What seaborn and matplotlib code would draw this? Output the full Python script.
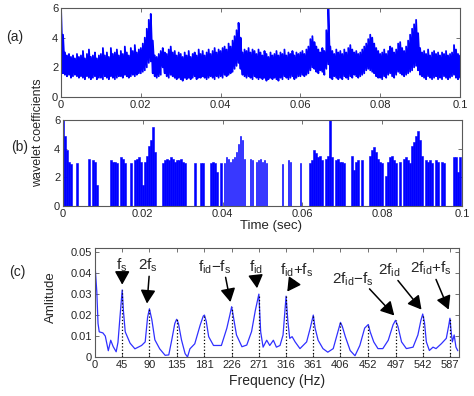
# Wavelet coefficients (a), thresholded coefficients (b) and envelope spectrum (c)

import numpy as np
import matplotlib
matplotlib.use("Agg")
import matplotlib.pyplot as plt
import seaborn as sns

sns.set_style("white")
plt.rcParams['font.family'] = ['Liberation Sans', 'DejaVu Sans']
plt.rcParams['mathtext.default'] = 'regular'

BLUE = '#0000ff'
FRAME = '0.35'

# ---- (a) raw wavelet coefficients: band envelope read every 0.5 ms ----
time_a = np.linspace(0, 0.1, 201)
upper_a = [6.0, 4.2, 3.0, 2.8, 2.9, 2.7, 2.8, 2.6, 2.9, 2.7,
           2.8, 3.1, 2.6, 2.9, 3.2, 2.7, 2.8, 3.0, 2.6, 2.8,
           2.9, 3.3, 2.8, 3.0, 2.7, 3.3, 2.9, 3.0, 3.2, 2.8,
           3.1, 2.9, 3.4, 3.0, 2.8, 3.3, 3.1, 3.5, 3.0, 3.2,
           3.3, 3.6, 4.0, 4.6, 5.2, 5.6, 3.8, 2.8, 2.7, 2.9,
           3.1, 3.3, 3.0, 2.9, 3.2, 3.4, 3.0, 3.1, 2.8, 3.0,
           2.9, 2.7, 3.0, 2.8, 3.1, 2.7, 2.9, 3.0, 2.8, 3.2,
           2.9, 3.1, 2.8, 3.0, 3.2, 2.9, 3.1, 3.3, 3.0, 3.2,
           3.1, 3.3, 3.4, 3.2, 3.6, 3.4, 3.8, 4.1, 4.5, 5.0,
           4.0, 3.0, 3.2, 3.1, 3.3, 3.0, 3.2, 3.1, 2.9, 3.2,
           3.0, 2.8, 3.1, 2.9, 2.7, 3.0, 2.8, 2.9, 3.1, 2.8,
           3.0, 2.9, 3.2, 2.8, 3.0, 2.9, 3.1, 2.8, 3.0, 2.9,
           3.0, 3.1, 2.9, 3.2, 3.4, 3.9, 4.1, 3.7, 3.4, 3.2,
           3.0, 3.3, 3.1, 4.5, 6.0, 3.4, 3.1, 2.9, 3.2, 3.0,
           3.1, 2.9, 3.2, 3.0, 3.3, 3.5, 3.2, 3.0, 3.1, 2.9,
           3.0, 3.2, 3.4, 3.6, 3.9, 4.2, 4.0, 3.6, 3.3, 3.1,
           2.9, 3.0, 3.2, 2.9, 3.1, 3.4, 3.3, 3.0, 3.2, 3.6,
           3.7, 3.3, 3.1, 3.4, 3.8, 4.2, 4.6, 4.9, 5.2, 4.3,
           3.3, 3.0, 3.1, 2.9, 3.2, 2.8, 3.0, 3.1, 2.9, 3.0,
           2.8, 3.0, 2.9, 3.1, 2.8, 2.9, 3.0, 3.5, 3.2, 2.9, 2.8]
lower_a = [2.2, 1.6, 1.5, 1.4, 1.5, 1.3, 1.4, 1.5, 1.4, 1.3,
           1.4, 1.3, 1.2, 1.4, 1.3, 1.2, 1.3, 1.4, 1.2, 1.3,
           1.3, 1.2, 1.4, 1.3, 1.2, 1.4, 1.3, 1.2, 1.3, 1.4,
           1.4, 1.3, 1.5, 1.4, 1.3, 1.4, 1.5, 1.4, 1.5, 1.6,
           1.6, 1.7, 1.8, 2.0, 2.3, 2.4, 1.6, 1.4, 1.3, 1.4,
           1.5, 2.0, 1.6, 1.4, 1.3, 1.5, 1.4, 1.3, 1.2, 1.3,
           1.2, 1.1, 1.3, 1.2, 1.3, 1.2, 1.3, 1.4, 1.2, 1.3,
           1.3, 1.4, 1.3, 1.2, 1.3, 1.4, 1.3, 1.2, 1.4, 1.3,
           1.4, 1.3, 1.5, 1.4, 1.5, 1.6, 1.7, 1.9, 2.1, 2.3,
           1.9, 1.5, 1.4, 1.3, 1.4, 1.3, 1.2, 1.4, 1.3, 1.2,
           1.3, 1.2, 1.3, 1.1, 1.2, 1.3, 1.2, 1.3, 1.2, 1.1,
           1.3, 1.2, 1.4, 1.3, 1.2, 1.3, 1.4, 1.2, 1.3, 1.4,
           1.4, 1.5, 1.4, 1.5, 1.6, 1.8, 2.0, 1.9, 1.7, 1.6,
           1.8, 1.7, 1.5, 1.9, 2.2, 1.3, 1.2, 1.4, 1.3, 1.2,
           1.3, 1.2, 1.4, 1.3, 1.2, 1.4, 1.3, 1.5, 1.4, 1.3,
           1.4, 1.5, 1.6, 1.8, 1.9, 1.8, 1.7, 1.6, 1.4, 1.3,
           1.3, 1.2, 1.4, 1.3, 1.5, 1.6, 1.4, 1.3, 1.5, 1.7,
           1.6, 1.5, 1.4, 1.5, 1.6, 1.7, 1.8, 2.0, 2.1, 1.8,
           1.5, 1.4, 1.3, 1.2, 1.4, 1.3, 1.2, 1.3, 1.4, 1.2,
           1.3, 1.2, 1.4, 1.3, 1.2, 1.3, 1.4, 1.5, 1.3, 1.2, 1.3]

# ---- (b) coefficients kept after thresholding ----
b_time = [0.0000, 0.0005, 0.0010, 0.0015, 0.0020,
          0.0035,
          0.0065, 0.0075, 0.0080, 0.0085,
          0.0120, 0.0125, 0.0130, 0.0135,
          0.0145, 0.0150, 0.0155,
          0.0170,
          0.0180, 0.0185, 0.0190, 0.0195, 0.0200, 0.0205,
          0.0210, 0.0215, 0.0220, 0.0225, 0.0230,
          0.0250, 0.0255, 0.0260, 0.0265, 0.0270, 0.0275, 0.0280, 0.0285, 0.0290, 0.0295, 0.0300, 0.0305,
          0.0330,
          0.0345, 0.0350,
          0.0370, 0.0375, 0.0380, 0.0385,
          0.0395,
          0.0405, 0.0410, 0.0415, 0.0420, 0.0425, 0.0430, 0.0435, 0.0440, 0.0445, 0.0450, 0.0455,
          0.0470, 0.0475,
          0.0485, 0.0490, 0.0495, 0.0500, 0.0505, 0.0510,
          0.0550,
          0.0565, 0.0570,
          0.0595,
          0.0620, 0.0625, 0.0630, 0.0635, 0.0640, 0.0645, 0.0650,
          0.0660, 0.0665, 0.0670, 0.0675,
          0.0685, 0.0690, 0.0695, 0.0700, 0.0705,
          0.0725, 0.0730, 0.0735, 0.0740,
          0.0750,
          0.0770, 0.0775, 0.0780, 0.0785, 0.0790, 0.0795, 0.0800,
          0.0810, 0.0815, 0.0820, 0.0825, 0.0830, 0.0835,
          0.0845,
          0.0855, 0.0860, 0.0865, 0.0870, 0.0875, 0.0880, 0.0885, 0.0890, 0.0895, 0.0900,
          0.0910, 0.0915, 0.0920, 0.0925,
          0.0935, 0.0940,
          0.0950, 0.0955,
          0.0980, 0.0985, 0.0990, 0.0995]
b_height = [6.0, 4.9, 3.9, 3.1, 2.9,
            3.0,
            3.3, 3.2, 3.1, 1.5,
            3.2, 3.1, 3.1, 3.0,
            3.4, 3.3, 3.0,
            3.0,
            3.2, 3.3, 3.4, 3.1, 1.5, 3.1,
            3.5, 4.2, 4.6, 5.5, 3.8,
            3.0, 3.2, 3.3, 3.2, 3.4, 3.3, 3.1, 3.2, 3.2, 3.3, 3.1, 3.0,
            3.0,
            3.0, 3.0,
            3.0, 3.1, 3.0, 2.4,
            3.0,
            3.0, 3.4, 3.3, 3.1, 3.3, 3.4, 3.8, 4.3, 4.9, 4.6, 3.3,
            3.3, 3.2,
            3.1, 3.2, 3.3, 3.1, 3.2, 3.0,
            2.9,
            3.2, 3.1,
            3.0,
            3.0, 3.2, 3.9, 3.7, 3.4, 3.5, 3.2,
            3.3, 3.5, 6.0, 3.4,
            3.2, 3.3, 3.1, 3.1, 3.0,
            3.5, 2.5, 3.1, 3.2,
            3.2,
            3.5, 3.9, 4.1, 3.8, 3.3, 3.1, 3.0,
            2.1, 3.1, 3.4, 3.5, 3.2, 3.0,
            3.1,
            3.3, 3.4, 3.2, 3.0, 4.2, 4.5, 4.9, 5.2, 4.6, 3.5,
            3.2, 3.1, 3.2, 3.0,
            3.2, 3.1,
            3.1, 3.0,
            3.4, 3.4, 2.4, 3.4]

time_ticks = [0, 0.02, 0.04, 0.06, 0.08, 0.1]
time_labels = ['0', '0.02', '0.04', '0.06', '0.08', '0.1']
coef_ticks = [0, 2, 4, 6]

# ---- (c) spectrum ----
spec_freq = [0, 3, 5, 7, 13, 17, 22, 26, 30, 35, 38, 41, 45, 47, 50, 58, 66, 77, 83, 87,
             90, 94, 99, 107, 116, 122, 127, 132, 135, 138, 143, 149, 153, 157, 165, 174, 179, 181, 184, 188,
             196, 209, 218, 223, 226, 229, 234, 243, 251, 259, 265, 271, 274, 278, 284, 289, 295, 300, 306, 311,
             316, 319, 322, 326, 331, 339, 350, 356, 361, 364, 369, 377, 385, 394, 401, 406, 409, 414, 422, 430,
             438, 446, 452, 455, 461, 468, 476, 485, 493, 497, 501, 507, 515, 526, 534, 539, 542, 545, 548, 553,
             559, 564, 573, 581, 585, 587, 589, 591, 594, 597, 600]
spec_amp = [0.044, 0.031, 0.016, 0.012, 0.0115, 0.010, 0.003, 0.008, 0.005, 0.0025,
            0.007, 0.018, 0.032, 0.022, 0.012, 0.0066, 0.0039, 0.0055, 0.0072, 0.019,
            0.023, 0.0178, 0.0082, 0.0039, 0.0008, 0.001, 0.0082, 0.016, 0.018, 0.016,
            0.0082, 0.0016, 0.0, 0.0039, 0.0063, 0.0153, 0.0195, 0.020, 0.017, 0.0097,
            0.0055, 0.0055, 0.0137, 0.020, 0.024, 0.019, 0.0105, 0.0049, 0.0057, 0.0122,
            0.022, 0.030, 0.012, 0.0047, 0.0080, 0.0055, 0.008, 0.0047, 0.0055, 0.0105,
            0.029, 0.017, 0.0089, 0.0097, 0.0072, 0.004, 0.0072, 0.0138, 0.020, 0.0138,
            0.008, 0.004, 0.0023, 0.004, 0.0113, 0.0165, 0.0146, 0.0097, 0.0031, 0.0006,
            0.0055, 0.0138, 0.0155, 0.0121, 0.0072, 0.004, 0.004, 0.008, 0.0154, 0.0175,
            0.0146, 0.0072, 0.004, 0.0047, 0.0105, 0.0175, 0.0205, 0.0163, 0.0072, 0.0031,
            0.0047, 0.004, 0.0064, 0.0089, 0.015, 0.0185, 0.0121, 0.0072, 0.0105, 0.0047, 0.003]

peak_freq = [45, 90, 135, 181, 226, 271, 316, 361, 406, 452, 497, 542, 587]
peak_amp = [0.032, 0.023, 0.018, 0.020, 0.024, 0.030, 0.029, 0.020, 0.0165, 0.0155, 0.0175, 0.0205, 0.0185]
freq_ticks = [0, 45, 90, 135, 181, 226, 271, 316, 361, 406, 452, 497, 542, 587]
amp_ticks = [0, 0.01, 0.02, 0.03, 0.04, 0.05]
amp_labels = ['0', '0.01', '0.02', '0.03', '0.04', '0.05']

peak_names = ['$f_s$', '$2f_s$', '$f_{id}{-}f_s$', '$f_{id}$', '$f_{id}{+}f_s$',
              '$2f_{id}{-}f_s$', '$2f_{id}$', '$2f_{id}{+}f_s$']

W, H = 474, 396
fig = plt.figure(figsize=(W / 100, H / 100), dpi=100)


def box(x0, y0, x1, y1):
    # pixel box (top-left origin) -> figure fraction rect
    return [x0 / W, 1 - y1 / H, (x1 - x0) / W, (y1 - y0) / H]


def style_axes(ax):
    for s in ax.spines.values():
        s.set_color(FRAME)
        s.set_linewidth(0.8)
    ax.tick_params(direction='in', top=True, right=True, bottom=True, left=True,
                   length=3, width=0.6, color=FRAME, labelsize=8, pad=2)


ax_a = fig.add_axes(box(61, 8, 460, 97))
ax_b = fig.add_axes(box(63, 120, 462, 206))
ax_c = fig.add_axes(box(95, 248, 459, 357))

# (a) dense signal drawn as a zigzag between the band edges
zig_t = np.repeat(time_a, 2)
zig_y = np.column_stack([lower_a, upper_a]).ravel()
sns.lineplot(x=zig_t, y=zig_y, sort=False, estimator=None, color=BLUE, lw=1.3, ax=ax_a)

# (b)
ax_b.bar(b_time, b_height, width=0.00045, color=BLUE, edgecolor=BLUE, linewidth=0.4)

for ax in (ax_a, ax_b):
    ax.set_xlim(0, 0.1)
    ax.set_ylim(0, 6)
    ax.set_xticks(time_ticks)
    ax.set_xticklabels(time_labels)
    ax.set_yticks(coef_ticks)
    ax.set_xlabel('')
    ax.set_ylabel('')
    style_axes(ax)

# (c)
sns.lineplot(x=spec_freq, y=spec_amp, sort=False, estimator=None, color='#3030ff', lw=0.9, ax=ax_c)
ax_c.vlines(peak_freq, 0, peak_amp, colors='k', linestyles=':', lw=0.9)
ax_c.set_xlim(0, 602)
ax_c.set_ylim(0, 0.052)
ax_c.set_xticks(freq_ticks)
ax_c.set_xticklabels([str(f) for f in freq_ticks])
ax_c.set_yticks(amp_ticks)
ax_c.set_yticklabels(amp_labels)
ax_c.set_xlabel('')
ax_c.set_ylabel('')
style_axes(ax_c)

# peak labels and arrows (text x, text bottom, arrow tail, arrow tip)
notes = [((44, 0.0395), (45, 0.0390), (45, 0.0345)),
         ((88, 0.0395), (89.5, 0.0385), (86, 0.0255)),
         ((198, 0.0388), (216, 0.0380), (224, 0.0262)),
         ((267, 0.0388), (266, 0.0380), (268, 0.0328)),
         ((333, 0.0370), (330, 0.0362), (318, 0.0312)),
         ((427, 0.0330), (454, 0.0325), (495, 0.0198)),
         ((487, 0.0370), (501, 0.0365), (540, 0.0226)),
         ((556, 0.0380), (564, 0.0370), (585, 0.0226))]
arrow = dict(arrowstyle='-|>,head_length=0.9,head_width=0.5', color='k', lw=1.1,
             mutation_scale=9, shrinkA=0, shrinkB=0)
for name, (txt, tail, tip) in zip(peak_names, notes):
    ax_c.text(txt[0], txt[1], name, ha='center', va='bottom', fontsize=11)
    ax_c.annotate('', xy=tip, xytext=tail, arrowprops=arrow)

# figure texts
fig.text(15 / W, 1 - 37 / H, '(a)', ha='center', va='center', fontsize=10)
fig.text(20 / W, 1 - 147 / H, '(b)', ha='center', va='center', fontsize=10)
fig.text(17 / W, 1 - 272 / H, '(c)', ha='center', va='center', fontsize=10)
fig.text(38 / W, 1 - 133 / H, 'wavelet coefficients', rotation=90, ha='center', va='center', fontsize=9)
fig.text(271 / W, 1 - 226 / H, 'Time (sec)', ha='center', va='center', fontsize=9.5)
fig.text(51 / W, 1 - 297 / H, 'Amlitude', rotation=90, ha='center', va='center', fontsize=9.5)
fig.text(277 / W, 1 - 381 / H, 'Frequency (Hz)', ha='center', va='center', fontsize=10)

fig.savefig('out.png', dpi=100)
